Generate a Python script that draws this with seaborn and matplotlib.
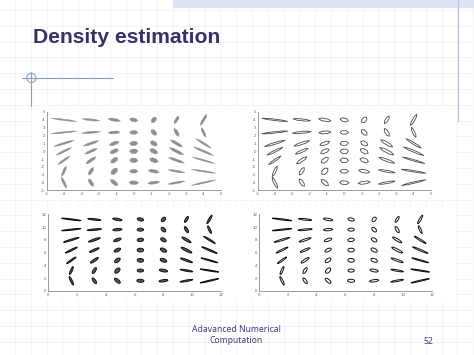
import numpy as np
import seaborn as sns
import matplotlib.pyplot as plt
from matplotlib.patches import Polygon, Rectangle, Circle

# ------------------------------------------------------------------
# data: 7x7 field of covariance glyphs (rows top -> bottom)
# ------------------------------------------------------------------
top_x = [-4, -2.45, -1.12, 0, 1.15, 2.45, 4]
top_y = [4, 2.4, 1, 0, -1.15, -2.55, -4]
bot_x = [1.6, 3.2, 4.8, 6.4, 8.0, 9.6, 11.2]
bot_y = [11.2, 9.6, 8.0, 6.4, 4.8, 3.2, 1.6]

top_ticks = [5, 4, 3, 2, 1, 0, -1, -2, -3, -4, -5]
bot_ticks = [0, 2, 4, 6, 8, 10, 12]

# orientation of the major axis (degrees, as seen on the slide)
glyph_angle = [
    [-7, -6, -10, -12, 49, 58, 60],
    [6, 5, 4, 0, -45, -59, -65],
    [17, 19, 20, 5, -29, -31, -32],
    [26, 24, 25, 0, -27, -27, -23],
    [35, 34, 35, -3, -20, -20, -16],
    [66, 58, 45, 0, -10, -10, -9],
    [-64, -55, -40, -3, 8, 10, 13],
]
# major / minor axis magnitudes
glyph_major = [
    [26, 17.5, 12.5, 8.5, 7, 9, 13],
    [26, 19, 12, 8.5, 7.5, 9.2, 11],
    [21.5, 16.5, 10.5, 8.5, 8, 14, 18],
    [17.5, 14, 9.2, 8.5, 9, 16, 22],
    [15, 12.5, 8.7, 8.5, 9, 17, 23],
    [11.5, 9, 8.5, 8.5, 11, 17, 25],
    [12.5, 9, 9.5, 9.5, 12, 17, 25],
]
glyph_minor = [
    [1.5, 2, 3, 4, 4.5, 3, 2.5],
    [1.5, 2, 3, 4, 4.5, 3.5, 2.5],
    [2, 2.5, 3.5, 4.5, 4.5, 3, 2],
    [2, 2.5, 4, 5, 4.5, 3, 2],
    [2, 3, 4.5, 5, 4.5, 2.5, 1.5],
    [2.5, 3.5, 5, 4, 3.5, 2, 1.5],
    [2.5, 3.5, 4, 4, 3, 2, 1.5],
]

W, H = 474, 355
sns.set_style("white")
plt.rcParams['font.family'] = ['Liberation Sans', 'DejaVu Sans']
fig = plt.figure(figsize=(W / 100, H / 100), dpi=100)
fig.patch.set_facecolor('white')

# ------------------------------------------------------------------
# slide background (pixel coordinates)
# ------------------------------------------------------------------
bg = fig.add_axes([0, 0, 1, 1], zorder=0)
bg.set_xlim(0, W)
bg.set_ylim(H, 0)
bg.axis('off')
for gx in np.arange(15, W, 15.8):
    bg.plot([gx, gx], [0, H], color='#eeeef4', lw=0.5, zorder=1)
for gy in np.arange(10, H, 15.8):
    bg.plot([0, W], [gy, gy], color='#eeeef4', lw=0.5, zorder=1)
bg.add_patch(Rectangle((173, 0), W - 173, 6.5, color='#dfe3f6', zorder=2))
bg.plot([458, 458], [0, 121], color='#b9c0e0', lw=0.9, zorder=3)
# images cover the grid
for (x0, y0, x1, y1) in [(32, 106, 245, 199), (245, 106, 455, 199),
                         (32, 207, 245, 299), (245, 207, 455, 299)]:
    bg.add_patch(Rectangle((x0, y0), x1 - x0, y1 - y0, color='white', zorder=4))
# title ornament
bg.plot([21.7, 113], [78.3, 78.3], color='#8e9ccc', lw=0.8, zorder=5)
bg.plot([31.5, 31.5], [72, 106], color='#8e9ccc', lw=0.8, zorder=5)
bg.add_patch(Circle((31.3, 78), 4.6, fill=False, ec='#8e9ccc', lw=0.8, zorder=5))

bg.text(33, 43, 'Density estimation', fontsize=15.2, fontweight='bold',
        color='#333366', ha='left', va='baseline', zorder=6)
bg.text(236.5, 335, 'Adavanced Numerical\nComputation', fontsize=6.2,
        family=['Noto Sans', 'DejaVu Sans'], color='#3d3d80',
        ha='center', va='center', linespacing=1.25, zorder=6)
bg.text(428, 341.5, '52', fontsize=6.2, family=['Noto Sans', 'DejaVu Sans'],
        color='#3d3d80', ha='center', va='center', zorder=6)


# ------------------------------------------------------------------
# glyph panels
# ------------------------------------------------------------------
def panel(rect_px, xs, ys, lim, ticks, nvert, scale, face, edge, lw):
    x0, y0, x1, y1 = rect_px
    ax = fig.add_axes([x0 / W, 1 - y1 / H, (x1 - x0) / W, (y1 - y0) / H], zorder=5)
    ax.set_facecolor('none')
    ax.set_xlim(lim)
    ax.set_ylim(lim)
    px_x = (x1 - x0) / (lim[1] - lim[0])
    px_y = (y1 - y0) / (lim[1] - lim[0])
    t = np.linspace(0, 2 * np.pi, nvert, endpoint=False)
    for i, cy in enumerate(ys):
        for j, cx in enumerate(xs):
            a = np.deg2rad(glyph_angle[i][j])
            L = glyph_major[i][j] * scale / 2
            w = glyph_minor[i][j] * scale / 2
            u, v = L * np.cos(t), w * np.sin(t)
            dx = u * np.cos(a) - v * np.sin(a)
            dy = u * np.sin(a) + v * np.cos(a)
            verts = np.column_stack([cx + dx / px_x, cy + dy / px_y])
            ax.add_patch(Polygon(verts, closed=True, fc=face, ec=edge, lw=lw,
                                 joinstyle='round'))
    ax.set_xticks(ticks)
    ax.set_yticks(ticks)
    ax.set_xticklabels([str(k) for k in ticks])
    ax.set_yticklabels([str(k) for k in ticks])
    ax.tick_params(direction='in', length=1.5, width=0.4, color='#888888',
                   labelsize=3.2, labelcolor='#666666', pad=1.2)
    sns.despine(ax=ax)
    for s in ('left', 'bottom'):
        ax.spines[s].set_color('#8a8a8a')
        ax.spines[s].set_linewidth(0.6)
    return ax


panel((46.5, 112, 221, 190.5), top_x, top_y, (-5, 5), top_ticks, 6, 1.0,
      '#8e8e8e', '#8e8e8e', 0.3)
panel((257.5, 112, 431, 190.5), top_x, top_y, (-5, 5), top_ticks, 6, 1.0,
      'none', '#4a4a4a', 0.6)
panel((48.3, 214.3, 221, 291), bot_x, bot_y, (0, 12), bot_ticks, 40, 0.75,
      '#5a5a5a', '#111111', 0.7)
panel((259, 214.3, 431.7, 291), bot_x, bot_y, (0, 12), bot_ticks, 40, 0.75,
      'none', '#111111', 0.7)

fig.savefig('out.png', dpi=100)
